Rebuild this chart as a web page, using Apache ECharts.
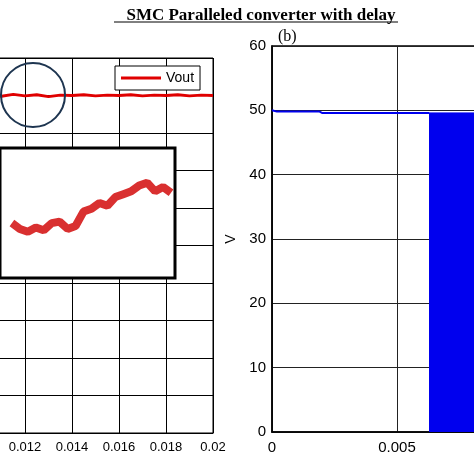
<!DOCTYPE html><html><head><meta charset="utf-8">
<script src="https://cdn.jsdelivr.net/npm/echarts@6/dist/echarts.min.js"></script>
<style>html,body{margin:0;padding:0;background:#fff;overflow:hidden;width:474px;height:474px;position:relative}#c{position:absolute;left:-22px;top:0;width:544px;height:474px}</style></head><body><div id="c"></div>
<script>
const leftTime=[0.010,0.0105,0.011,0.0115,0.012,0.0125,0.013,0.0135,0.014,0.0145,0.015,0.0155,0.016,0.0165,0.017,0.0175,0.018,0.0185,0.019,0.0195,0.020];
const leftVout=[9.0,9.02,8.98,9.03,8.99,9.02,8.97,9.01,9.0,9.02,8.99,9.01,9.0,9.02,8.99,9.01,9.0,9.02,8.99,9.01,9.0];
const insetX=[0,1,2,3,4,5,6,7,8,9,10,11,12,13,14,15,16,17,18,19,20];
const insetY=[2.9,2.7,2.6,2.75,2.65,2.9,2.95,2.7,2.8,3.3,3.4,3.6,3.5,3.8,3.9,4.0,4.2,4.3,4.0,4.15,3.95];
const rightTime=[0,0.0002,0.001,0.0019,0.002,0.004,0.006,0.0063];
const rightV=[50,49.8,49.8,49.8,49.6,49.6,49.6,49.6];
const fillTime=[0.0063,0.0063,0.01];
const fillV=[0,49.6,49.6];
const leftTicks=[0.012,0.014,0.016,0.018,0.02];
const c=echarts.init(document.getElementById('c'),null,{width:544,height:474});
const X=22;
c.setOption({animation:false,
title:{text:'SMC Paralleled converter with delay',left:256+X,textAlign:'center',top:2,textStyle:{fontFamily:'Liberation Serif',fontWeight:'bold',fontSize:17,color:'#000'}},
legend:{data:['Vout'],left:115+X,top:66,itemWidth:40,itemHeight:3,borderColor:'#000',borderWidth:1,borderRadius:0,padding:[5,6],backgroundColor:'#fff',textStyle:{fontSize:14,fontFamily:'Liberation Sans',color:'#000'},icon:'rect',z:10},
grid:[
{left:0,right:544-213-X,top:58,height:375,show:true,borderColor:'#000',borderWidth:1,outerBoundsMode:'none'},
{left:272+X,right:0,top:46,height:386,show:true,borderColor:'#000',borderWidth:1.5,outerBoundsMode:'none'},
{left:X,right:544-175-X,top:148,height:130,show:true,backgroundColor:'#fff',borderColor:'#000',borderWidth:3,z:5,outerBoundsMode:'none'}
],
xAxis:[
{gridIndex:0,type:'value',min:0.01,max:0.02,interval:0.002,axisLine:{lineStyle:{color:'#000'}},axisTick:{show:false},splitLine:{lineStyle:{color:'#000',width:1}},axisLabel:{color:'#000',fontSize:13,fontFamily:'Liberation Sans',margin:8,formatter:v=>leftTicks.some(t=>Math.abs(t-v)<1e-9)?String(+v.toFixed(3)):''}},
{gridIndex:1,type:'value',min:0,max:0.01,interval:0.005,axisLine:{onZero:false,lineStyle:{color:'#000',width:1.5}},axisTick:{show:false},splitLine:{lineStyle:{color:'#222',width:1}},axisLabel:{color:'#000',fontSize:15,fontFamily:'Liberation Sans',margin:8}},
{gridIndex:2,type:'value',min:-1.5,max:20.5,interval:4.5,axisLine:{show:false},axisTick:{show:false},axisLabel:{show:false},splitLine:{lineStyle:{color:'#666',type:[2,4],width:2}}}
],
yAxis:[
{gridIndex:0,type:'value',min:0,max:10,interval:1,axisLine:{show:false},axisTick:{show:false},axisLabel:{show:false},splitLine:{lineStyle:{color:'#000',width:1}}},
{gridIndex:1,type:'value',min:0,max:60,interval:10,name:'V',nameLocation:'middle',nameGap:34,nameTextStyle:{fontSize:14,color:'#000'},axisLine:{lineStyle:{color:'#000',width:1.5}},axisTick:{show:false},splitLine:{lineStyle:{color:'#222',width:1}},axisLabel:{color:'#000',fontSize:15,fontFamily:'Liberation Sans',margin:6}},
{gridIndex:2,type:'value',min:1,max:5.5,interval:1,axisLine:{show:false},axisTick:{show:false},axisLabel:{show:false},splitLine:{show:false}}
],
series:[
{name:'Vout',type:'line',xAxisIndex:0,yAxisIndex:0,data:leftTime.map((t,i)=>[t,leftVout[i]]),showSymbol:false,lineStyle:{color:'#e00000',width:3},itemStyle:{color:'#e00000'}},
{type:'line',xAxisIndex:2,yAxisIndex:2,data:insetX.map((t,i)=>[t,insetY[i]]),showSymbol:false,lineStyle:{color:'#d93030',width:8},z:6},
{type:'line',xAxisIndex:1,yAxisIndex:1,data:rightTime.map((t,i)=>[t,rightV[i]]),showSymbol:false,lineStyle:{color:'#0000ee',width:2}},
{type:'line',xAxisIndex:1,yAxisIndex:1,data:fillTime.map((t,i)=>[t,fillV[i]]),showSymbol:false,lineStyle:{color:'#0000ee',width:1},areaStyle:{color:'#0000ee',opacity:1}}
],
graphic:[
{type:'circle',shape:{cx:33+X,cy:95,r:32},style:{fill:'none',stroke:'#1e3550',lineWidth:2},z:20},
{type:'text',left:278+X,top:29,style:{text:'(b)',font:'16px Liberation Serif',fill:'#000'}},
{type:'line',shape:{x1:114+X,y1:22,x2:398+X,y2:22},style:{stroke:'#000',lineWidth:1}}
]});
</script></body></html>
